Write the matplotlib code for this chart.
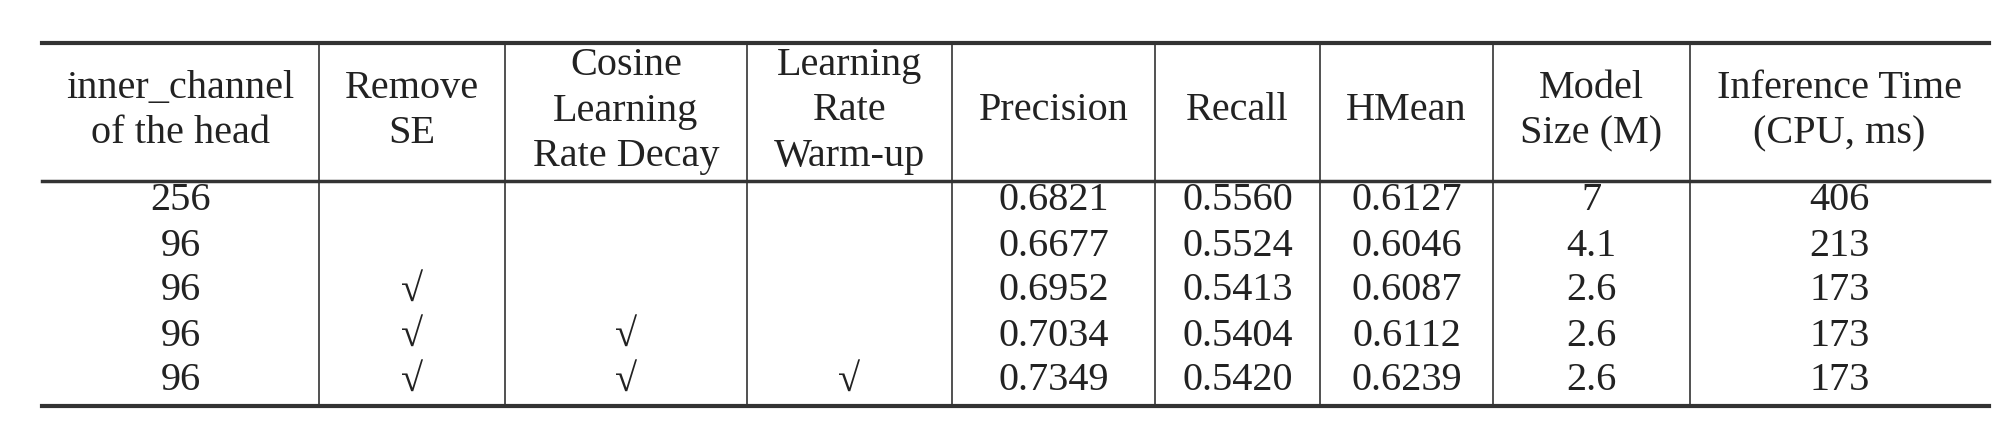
import matplotlib.pyplot as plt

headers = ["inner_channel\nof the head", "Remove\nSE", "Cosine\nLearning\nRate Decay",
           "Learning\nRate\nWarm-up", "Precision", "Recall", "HMean",
           "Model\nSize (M)", "Inference Time\n(CPU, ms)"]
inner_channel = ["256", "96", "96", "96", "96"]
remove_se = ["", "", "√", "√", "√"]
cosine_decay = ["", "", "", "√", "√"]
warm_up = ["", "", "", "", "√"]
precision = ["0.6821", "0.6677", "0.6952", "0.7034", "0.7349"]
recall = ["0.5560", "0.5524", "0.5413", "0.5404", "0.5420"]
hmean = ["0.6127", "0.6046", "0.6087", "0.6112", "0.6239"]
model_size = ["7", "4.1", "2.6", "2.6", "2.6"]
inference_time = ["406", "213", "173", "173", "173"]

columns = [inner_channel, remove_se, cosine_decay, warm_up, precision,
           recall, hmean, model_size, inference_time]

# column borders in pixel coords
xs = [42, 319, 505, 747, 952, 1155, 1320, 1493, 1690, 1989]
top, mid, bottom = 43, 181, 406
row_y = [200, 246, 291, 336, 381]

fig = plt.figure(figsize=(20.04, 4.3), dpi=100)
ax = fig.add_axes([0, 0, 1, 1])
ax.set_xlim(0, 2004)
ax.set_ylim(430, 0)
ax.axis("off")

font = dict(family="Liberation Serif", fontsize=29, color="#222222")

ax.plot([xs[0], xs[-1]], [top, top], color="#333333", lw=3)
ax.plot([xs[0], xs[-1]], [mid, mid], color="#333333", lw=2.5)
ax.plot([xs[0], xs[-1]], [bottom, bottom], color="#333333", lw=3)
for x in xs[1:-1]:
    ax.plot([x, x], [top, bottom], color="#333333", lw=1.2)

for i, h in enumerate(headers):
    cx = (xs[i] + xs[i + 1]) / 2
    ax.text(cx, 111, h, ha="center", va="center", linespacing=1.3, **font)
    for j, val in enumerate(columns[i]):
        ax.text(cx, row_y[j], val, ha="center", va="center", **font)

fig.savefig("out.png", dpi=100)
